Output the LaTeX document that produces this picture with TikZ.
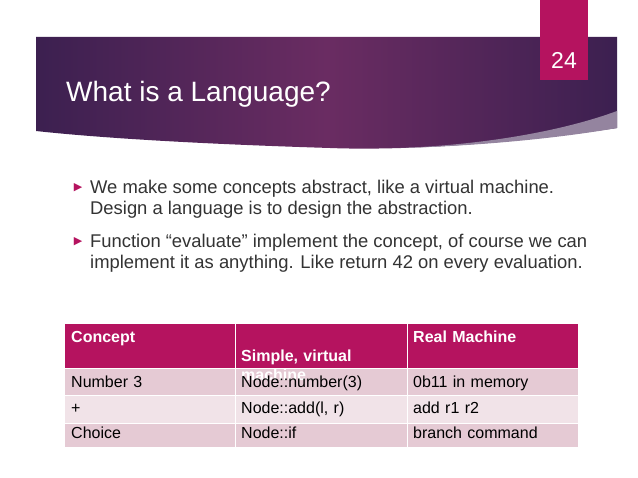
\documentclass[tikz,border=0pt]{standalone}
\usepackage{fontspec}
\setmainfont{Liberation Sans}
\newfontfamily\symfont{DejaVu Sans}
\definecolor{magenta}{HTML}{B5135F}
\definecolor{darkpurple}{HTML}{3C2050}
\definecolor{midpurple}{HTML}{6A2C62}
\definecolor{rowdark}{HTML}{E5CAD4}
\definecolor{rowlight}{HTML}{F1E3E8}
\tikzset{
  cell/.style={anchor=base west, font=\fontsize{16}{18}\selectfont, text width=165pt, inner sep=0pt, align=left},
  head/.style={cell, text=white, font=\fontsize{16}{19}\selectfont\bfseries},
  bullet/.style={anchor=base west, inner sep=0pt, font=\fontsize{18.4}{21}\selectfont, text=black!80, align=left},
  tri/.style={anchor=center, inner sep=0pt, text=magenta, font=\symfont\fontsize{11}{11}\selectfont}
}
\begin{document}
\begin{tikzpicture}[x=1pt,y=-1pt]
\useasboundingbox (0,0) rectangle (638,478);
\fill[white] (0,0) rectangle (638,478);

%title banner
\shade[left color=darkpurple, right color=darkpurple, middle color=midpurple]
  (36,37) -- (617,37) -- (617,128) .. controls (480,148) and (380,150) .. (330,148)
  .. controls (200,144) and (100,138) .. (36,131) -- cycle;
\fill[white!45!darkpurple] (617,111) .. controls (560,132) and (480,145) .. (400,148)
  .. controls (480,146) and (560,138) .. (617,128) -- cycle;
\node [anchor=base west, inner sep=0pt, text=white, font=\fontsize{28}{28}\selectfont] (title) at (66,102){What is a Language?};

%page number
\fill[magenta] (540,0) rectangle (588,80);
\node [anchor=base, inner sep=0pt, text=white, font=\fontsize{23}{23}\selectfont] (page) at (564,69){24};

%bullets (anchored at the last line)
\node [tri] (t1) at (78,188){▶};
\node [bullet] (b1) at (90,215){We make some concepts abstract, like a virtual machine.\\Design a language is to design the abstraction.};
\node [tri] (t2) at (78,242){▶};
\node [bullet] (b2) at (90,269){Function “evaluate” implement the concept, of course we can\\implement it as anything. Like return 42 on every evaluation.};

%table rows
\fill[magenta] (65,324) rectangle (578,368);
\fill[rowdark] (65,369) rectangle (578,395);
\fill[rowlight] (65,396) rectangle (578,423);
\fill[rowdark] (65,424) rectangle (578,447);
\draw[white, line width=1pt] (235,324) -- (235,447);
\draw[white, line width=1pt] (407,324) -- (407,447);

%table texts
\node [head] (h1) at (71,343){Concept};
\node [head] (h2) at (241,362){Simple, virtual\\machine};
\node [head] (h3) at (413,343){Real Machine};
\node [cell] (c11) at (71,388){Number 3};
\node [cell] (c12) at (241,388){Node::number(3)};
\node [cell] (c13) at (413,388){0b11 in memory};
\node [cell] (c21) at (71,414){+};
\node [cell] (c22) at (241,414){Node::add(l, r)};
\node [cell] (c23) at (413,414){add r1 r2};
\node [cell] (c31) at (71,439){Choice};
\node [cell] (c32) at (241,439){Node::if};
\node [cell] (c33) at (413,439){branch command};
\end{tikzpicture}
\end{document}
